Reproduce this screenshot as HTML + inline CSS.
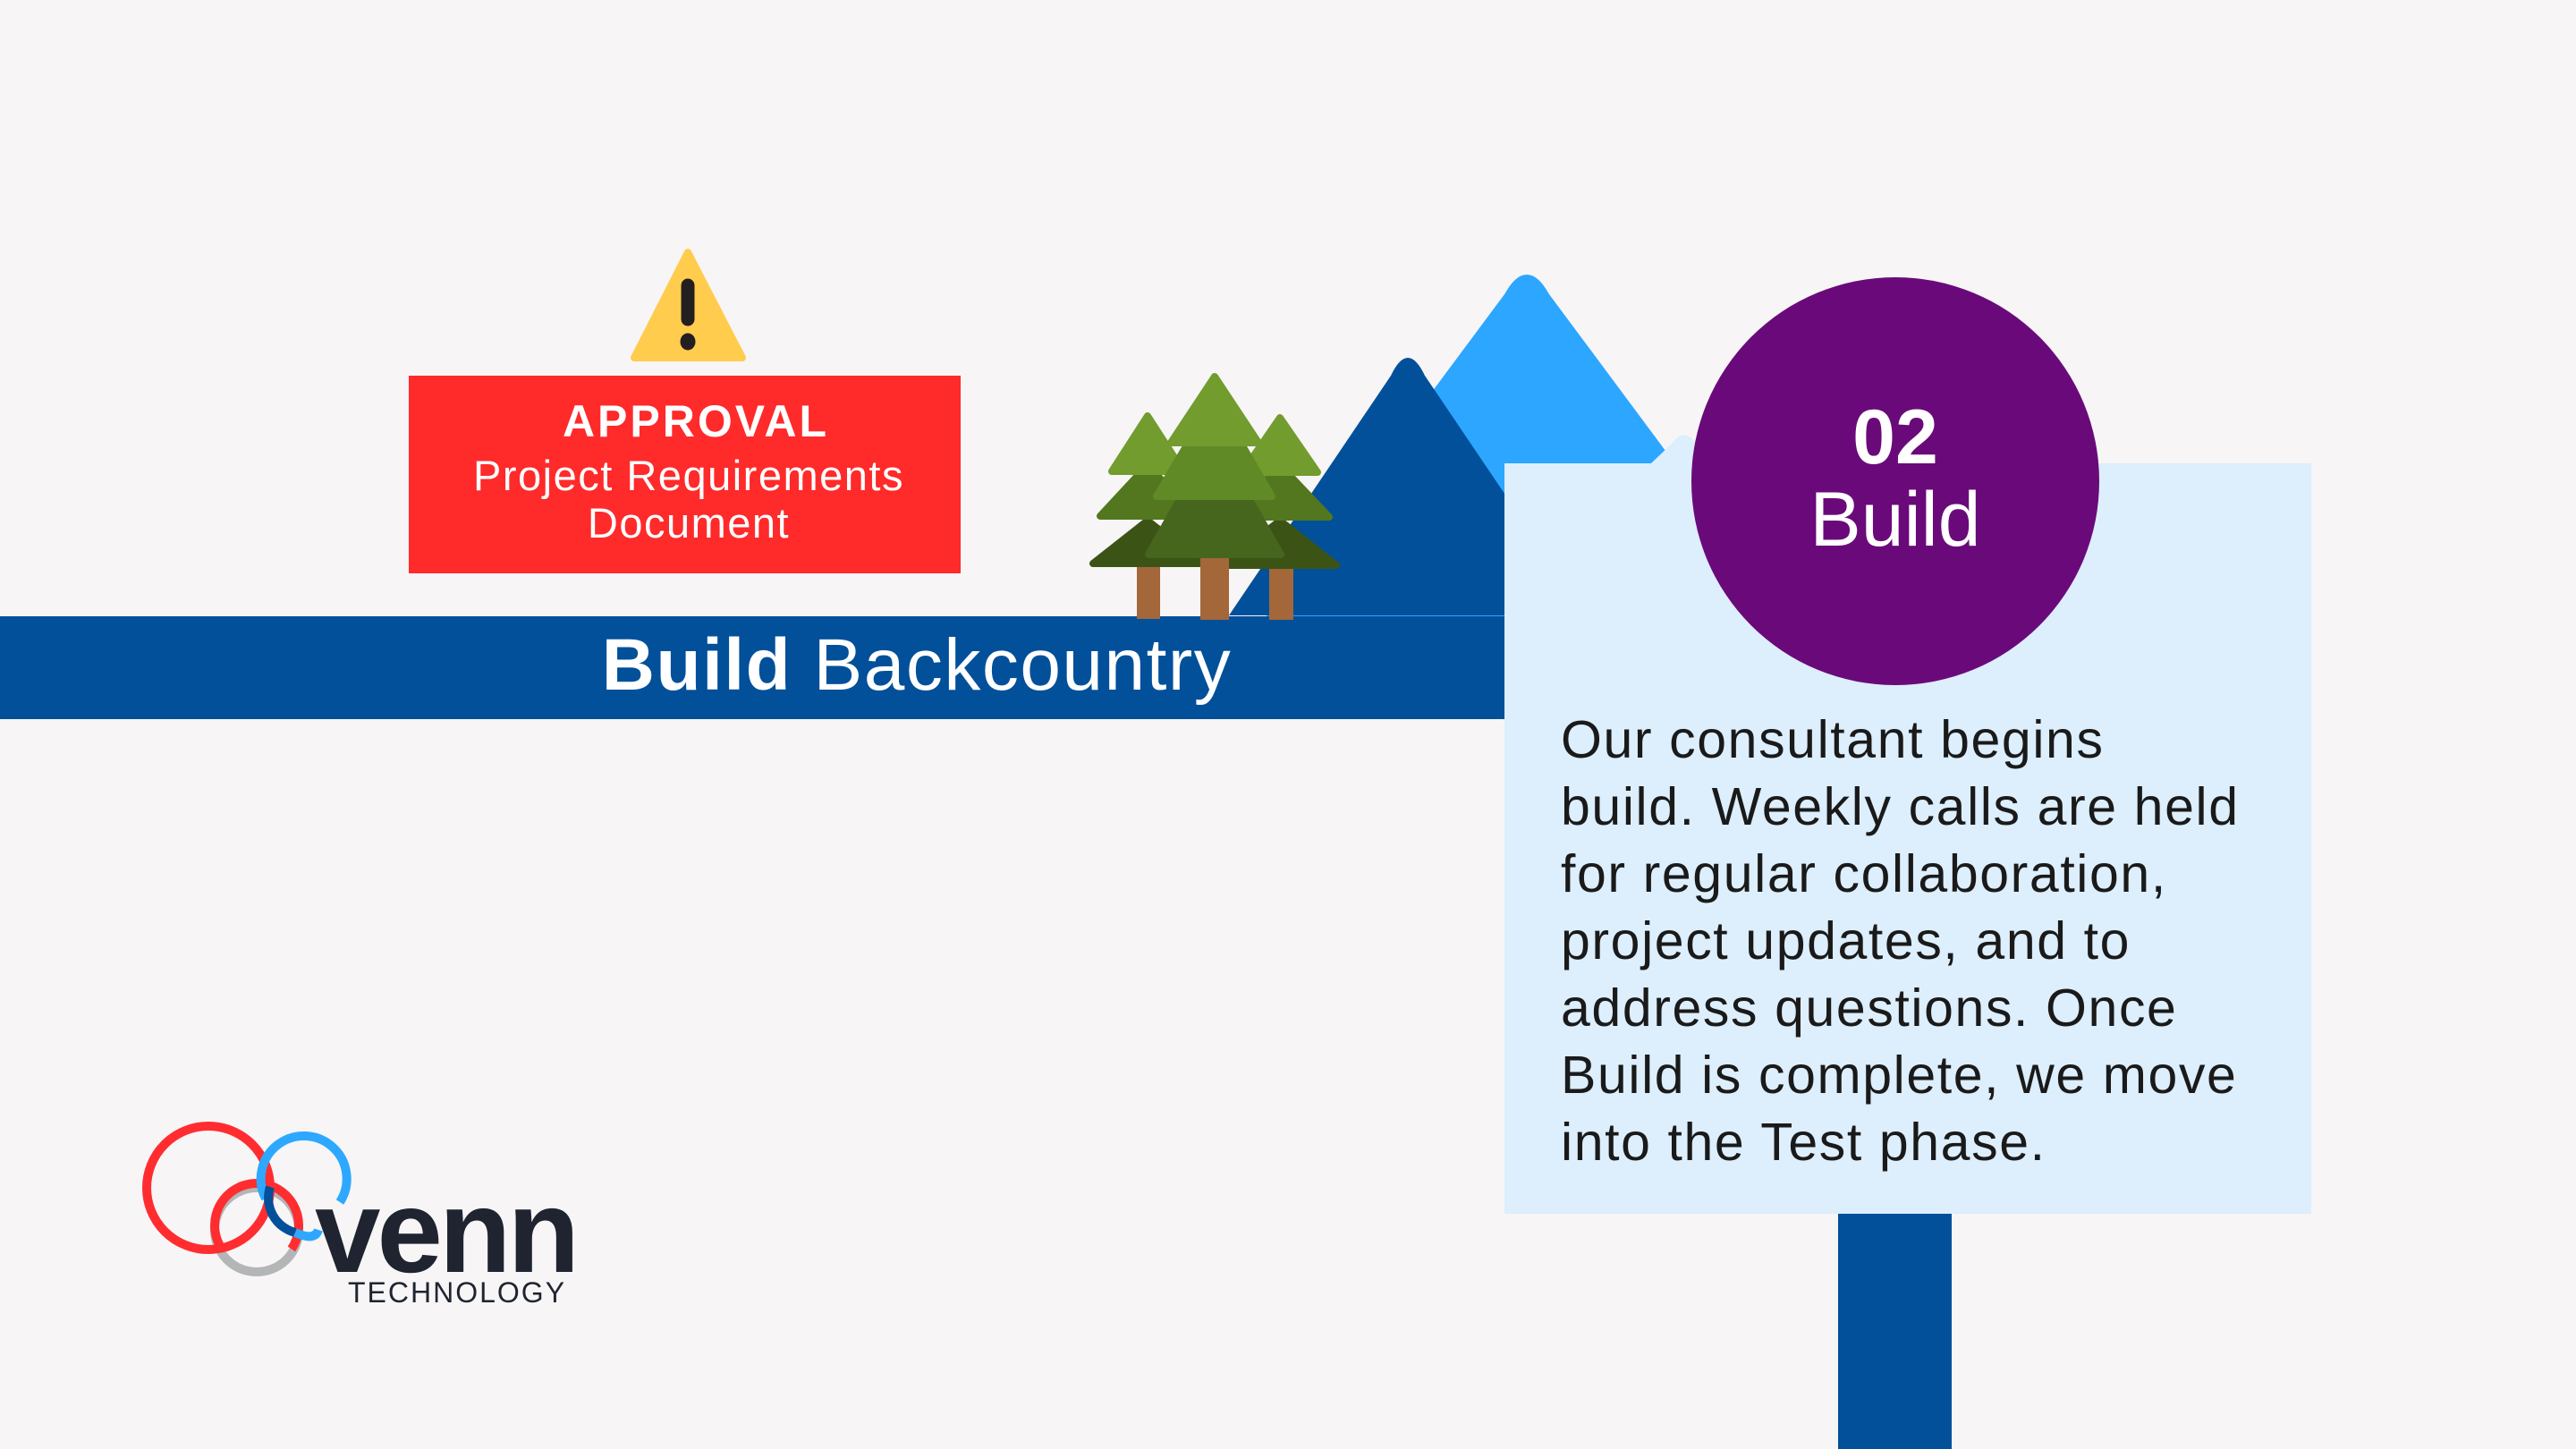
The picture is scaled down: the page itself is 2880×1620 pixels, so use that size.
<!DOCTYPE html>
<html><head><meta charset="utf-8"><style>
html,body{margin:0;padding:0;}
body{width:2880px;height:1620px;background:#f7f5f6;position:relative;overflow:hidden;font-family:"Liberation Sans",sans-serif;}
.abs{position:absolute;}
</style></head><body>
<svg class="abs" style="left:0;top:0" width="2880" height="1620" viewBox="0 0 2880 1620">
  <path d="M1419,688 L1685,330 Q1707,290 1729,330 L1995,688 Z" fill="#2ca6ff" stroke="#2ca6ff" stroke-width="6" stroke-linejoin="round"/>
  <path d="M1374,688 L1555,420 Q1574,380 1593,420 L1774,688 Z" fill="#02509a"/>
  <rect x="0" y="689" width="1684" height="115" fill="#02509a"/>
  <rect x="2055" y="1350" width="127" height="270" fill="#02509a"/>
  <path d="M1846,518 L1870,495 Q1882,478 1896,495 L1920,518 Z" fill="#ddeefc"/>
  <rect x="1682" y="518" width="902" height="839" fill="#ddeefc"/>
  <circle cx="2119" cy="538" r="228" fill="#6a0a7a"/>
  <g stroke-linejoin="round" stroke-width="8">
    <rect x="1271" y="628" width="26" height="64" fill="#a3673a"/>
    <rect x="1419" y="630" width="27" height="63" fill="#a3673a"/>
    <polygon points="1283,582 1222,630 1344,630" fill="#3b5416" stroke="#3b5416"/>
    <polygon points="1283,520 1230,577 1336,577" fill="#52771f" stroke="#52771f"/>
    <polygon points="1283,465 1243,527 1323,527" fill="#729c2e" stroke="#729c2e"/>
    <polygon points="1431,582 1368,632 1494,632" fill="#3b5416" stroke="#3b5416"/>
    <polygon points="1431,520 1376,578 1486,578" fill="#52771f" stroke="#52771f"/>
    <polygon points="1431,467 1389,528 1473,528" fill="#729c2e" stroke="#729c2e"/>
    <rect x="1342" y="618" width="32" height="75" fill="#a3673a"/>
    <polygon points="1358,490 1284,620 1432,620" fill="#46651d" stroke="#46651d"/>
    <polygon points="1358,445 1293,555 1422,555" fill="#5f8a26" stroke="#5f8a26"/>
    <polygon points="1358,421 1309,495 1407,495" fill="#729c2e" stroke="#729c2e"/>
  </g>
  <polygon points="769,282 709,400 830,400" fill="#ffcc4d" stroke="#ffcc4d" stroke-width="8" stroke-linejoin="round"/>
  <line x1="769" y1="319" x2="769" y2="357" stroke="#231f20" stroke-width="15" stroke-linecap="round"/>
  <ellipse cx="769" cy="382" rx="8.5" ry="9.5" fill="#231f20"/>
  <rect x="457" y="420" width="617" height="221" fill="#ff2a2a"/>
  <g fill="none" stroke-width="10">
    <circle cx="287" cy="1375" r="47" stroke="#b4b5b7"/>
    <circle cx="233" cy="1328" r="69" stroke="#ff2d2f"/>
    <circle cx="287" cy="1370" r="47" stroke="#ff2d2f" stroke-dasharray="200 300" transform="rotate(150 287 1370)"/>
    <path d="M297,1340 A48,48 0 1,1 380,1344" stroke="#2ea8ff"/>
    <path d="M302,1327 A40,40 0 0,0 330,1378" stroke="#02509a"/>
    <path d="M330,1378 Q352,1388 356,1375" stroke="#2ea8ff"/>
  </g>
  <text x="352" y="1422" font-family="Liberation Sans, sans-serif" font-weight="bold" font-size="132" fill="#1f2430" letter-spacing="-4">venn</text>
  <text x="389" y="1456" font-family="Liberation Sans, sans-serif" font-size="32" fill="#1f2430" letter-spacing="2">TECHNOLOGY</text>
  <text x="778" y="488" text-anchor="middle" font-weight="bold" font-size="50" fill="#fff" letter-spacing="3">APPROVAL</text>
  <text x="770" y="548" text-anchor="middle" font-size="47" fill="#fff" letter-spacing="1.5">Project Requirements</text>
  <text x="770" y="601" text-anchor="middle" font-size="47" fill="#fff" letter-spacing="1.5">Document</text>
  <text x="1025" y="771" text-anchor="middle" font-size="82" fill="#fff" letter-spacing="1.5"><tspan font-weight="bold">Build</tspan> Backcountry</text>
  <text x="2119" y="518" text-anchor="middle" font-weight="bold" font-size="86" fill="#fff">02</text>
  <text x="2119" y="610" text-anchor="middle" font-size="86" fill="#fff">Build</text>
  <g font-size="59" fill="#1a1a1a" letter-spacing="1.6">
    <text x="1745" y="847">Our consultant begins</text>
    <text x="1745" y="922">build. Weekly calls are held</text>
    <text x="1745" y="997">for regular collaboration,</text>
    <text x="1745" y="1072">project updates, and to</text>
    <text x="1745" y="1147">address questions. Once</text>
    <text x="1745" y="1222">Build is complete, we move</text>
    <text x="1745" y="1297">into the Test phase.</text>
  </g>
</svg>
</body></html>
